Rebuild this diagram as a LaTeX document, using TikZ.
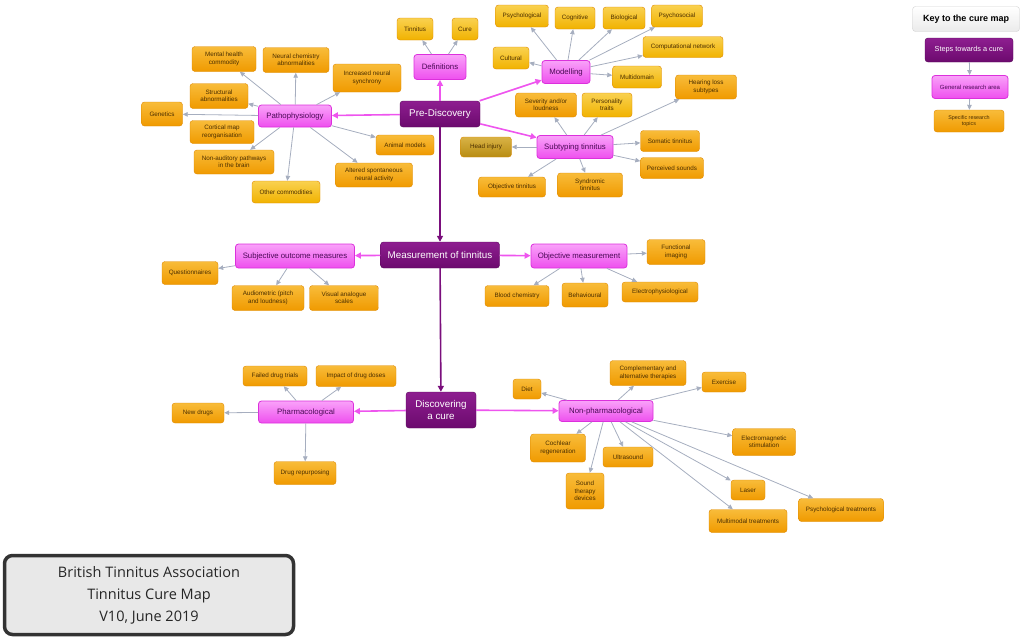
\documentclass[tikz,border=0pt]{standalone}
\usepackage{fontspec}
\setmainfont{Liberation Sans}
\newfontfamily\titlefont{Open Sans}
\usetikzlibrary{arrows.meta}
\definecolor{steptop}{HTML}{8E1E90}
\definecolor{stepbot}{HTML}{6C0A6E}
\definecolor{stepedge}{HTML}{560858}
\definecolor{areatop}{HTML}{F9A2F9}
\definecolor{areabot}{HTML}{EE4FEE}
\definecolor{areaedge}{HTML}{DC30DC}
\definecolor{areatext}{HTML}{4A0A55}
\definecolor{topictop}{HTML}{F8BC3A}
\definecolor{topicbot}{HTML}{F09A00}
\definecolor{topicedge}{HTML}{DE8800}
\definecolor{topictext}{HTML}{4A2E00}
\definecolor{yelltop}{HTML}{F9D150}
\definecolor{yellbot}{HTML}{F1B200}
\definecolor{goldtop}{HTML}{D9B346}
\definecolor{goldbot}{HTML}{B88C12}
\definecolor{linkgray}{HTML}{A6AEBF}
\definecolor{pinkline}{HTML}{EE55EE}
\definecolor{purpleline}{HTML}{7A0E7C}
\begin{document}
\begin{tikzpicture}[x=1pt,y=-1pt,
  box/.style={rounded corners=3pt,align=center,inner sep=1pt},
  stepbox/.style={box,draw=stepedge,top color=steptop,bottom color=stepbot,text=white,font=\fontsize{9.8}{11.5}\selectfont},
  areabox/.style={box,draw=areaedge,line width=.8pt,top color=areatop,bottom color=areabot,text=areatext,font=\fontsize{7.8}{9}\selectfont},
  topicbox/.style={box,draw=topicedge,top color=topictop,bottom color=topicbot,text=topictext,font=\fontsize{6.3}{7.3}\selectfont},
  yellbox/.style={topicbox,top color=yelltop,bottom color=yellbot},
  goldbox/.style={topicbox,top color=goldtop,bottom color=goldbot},
  link/.style={color=linkgray,line width=.8pt,-{Triangle[length=5pt,width=4.5pt]}},
  pinklink/.style={color=pinkline,line width=1.6pt,-{Triangle[length=6pt,width=6pt]}},
  purplelink/.style={color=purpleline,line width=1.6pt,-{Triangle[length=6pt,width=6pt]}}]
\useasboundingbox (0,0) rectangle (1024,643);
\node[stepbox,minimum width=80pt,minimum height=26pt] (pre) at (440,114) {Pre-Discovery};
\node[stepbox,minimum width=119pt,minimum height=26pt] (meas) at (440,255) {Measurement of tinnitus};
\node[stepbox,minimum width=70pt,minimum height=36pt] (disc) at (441,410) {Discovering\\a cure};
\node[areabox,minimum width=73pt,minimum height=22pt] (patho) at (295,116) {Pathophysiology};
\node[areabox,minimum width=52pt,minimum height=25pt] (defs) at (440,67) {Definitions};
\node[areabox,minimum width=48pt,minimum height=23pt] (model) at (566,72) {Modelling};
\node[areabox,minimum width=76pt,minimum height=23pt] (subtyp) at (575,147) {Subtyping tinnitus};
\node[areabox,minimum width=119pt,minimum height=24pt] (subj) at (295,256) {Subjective outcome measures};
\node[areabox,minimum width=96pt,minimum height=24pt] (obj) at (579,256) {Objective measurement};
\node[areabox,minimum width=95pt,minimum height=22pt] (pharm) at (306,412) {Pharmacological};
\node[areabox,minimum width=94pt,minimum height=21pt] (nonph) at (606,411) {Non-pharmacological};
\node[topicbox,minimum width=64pt,minimum height=25pt] (mental) at (224,59) {Mental health\\commodity};
\node[topicbox,minimum width=66pt,minimum height=25pt] (chem) at (296,60) {Neural chemistry\\abnormalities};
\node[topicbox,minimum width=68pt,minimum height=28pt] (sync) at (367,78) {Increased neural\\synchrony};
\node[topicbox,minimum width=58pt,minimum height=25pt] (struct) at (219,96) {Structural\\abnormalities};
\node[topicbox,minimum width=41pt,minimum height=24pt] (genet) at (162,114) {Genetics};
\node[topicbox,minimum width=64pt,minimum height=23pt] (cortex) at (222,132) {Cortical map\\reorganisation};
\node[topicbox,minimum width=80pt,minimum height=24pt] (nonaud) at (234,162) {Non-auditory pathways\\in the brain};
\node[topicbox,minimum width=58pt,minimum height=20pt] (animal) at (405,145) {Animal models};
\node[topicbox,minimum width=77pt,minimum height=24pt] (altered) at (374,175) {Altered spontaneous\\neural activity};
\node[yellbox,minimum width=68pt,minimum height=22pt] (other) at (286,192) {Other commodities};
\node[yellbox,minimum width=36pt,minimum height=22pt] (tinn) at (415,29) {Tinnitus};
\node[yellbox,minimum width=26pt,minimum height=22pt] (cure) at (465,29) {Cure};
\node[yellbox,minimum width=53pt,minimum height=22pt] (psych) at (522,16) {Psychological};
\node[yellbox,minimum width=40pt,minimum height=22pt] (cogn) at (575,18) {Cognitive};
\node[yellbox,minimum width=42pt,minimum height=22pt] (bio) at (624,18) {Biological};
\node[yellbox,minimum width=51pt,minimum height=22pt] (social) at (677,16) {Psychosocial};
\node[yellbox,minimum width=80pt,minimum height=21pt] (comput) at (683,47) {Computational network};
\node[yellbox,minimum width=36pt,minimum height=22pt] (cult) at (511,58) {Cultural};
\node[yellbox,minimum width=49pt,minimum height=22pt] (multi) at (637,77) {Multidomain};
\node[topicbox,minimum width=61pt,minimum height=24pt] (hearing) at (706,87) {Hearing loss\\subtypes};
\node[topicbox,minimum width=61pt,minimum height=24pt] (sever) at (546,105) {Severity and/or\\loudness};
\node[yellbox,minimum width=50pt,minimum height=24pt] (person) at (607,105) {Personality\\traits};
\node[goldbox,minimum width=51pt,minimum height=20pt] (head) at (486,147) {Head injury};
\node[topicbox,minimum width=59pt,minimum height=21pt] (somatic) at (670,141) {Somatic tinnitus};
\node[topicbox,minimum width=63pt,minimum height=21pt] (perceiv) at (672,168) {Perceived sounds};
\node[topicbox,minimum width=67pt,minimum height=20pt] (objtin) at (512,187) {Objective tinnitus};
\node[topicbox,minimum width=65pt,minimum height=24pt] (syndr) at (590,185) {Syndromic\\tinnitus};
\node[topicbox,minimum width=56pt,minimum height=23pt] (quest) at (190,273) {Questionnaires};
\node[topicbox,minimum width=72pt,minimum height=25pt] (audio) at (268,298) {Audiometric (pitch\\and loudness)};
\node[topicbox,minimum width=69pt,minimum height=25pt] (visual) at (344,298) {Visual analogue\\scales};
\node[topicbox,minimum width=58pt,minimum height=25pt] (func) at (676,252) {Functional\\imaging};
\node[topicbox,minimum width=64pt,minimum height=21pt] (blood) at (517,296) {Blood chemistry};
\node[topicbox,minimum width=46pt,minimum height=24pt] (behav) at (585,295) {Behavioural};
\node[topicbox,minimum width=76pt,minimum height=20pt] (electro) at (660,292) {Electrophysiological};
\node[topicbox,minimum width=64pt,minimum height=20pt] (failed) at (275,376) {Failed drug trials};
\node[topicbox,minimum width=80pt,minimum height=21pt] (impact) at (356,376) {Impact of drug doses};
\node[topicbox,minimum width=52pt,minimum height=20pt] (newdrug) at (198,413) {New drugs};
\node[topicbox,minimum width=62pt,minimum height=23pt] (repurp) at (305,473) {Drug repurposing};
\node[topicbox,minimum width=28pt,minimum height=20pt] (diet) at (527,389) {Diet};
\node[topicbox,minimum width=76pt,minimum height=25pt] (compl) at (648,373) {Complementary and\\alternative therapies};
\node[topicbox,minimum width=44pt,minimum height=20pt] (exerc) at (724,382) {Exercise};
\node[topicbox,minimum width=63pt,minimum height=27pt] (emag) at (764,442) {Electromagnetic\\stimulation};
\node[topicbox,minimum width=55pt,minimum height=28pt] (cochl) at (558,448) {Cochlear\\regeneration};
\node[topicbox,minimum width=50pt,minimum height=20pt] (ultra) at (628,457) {Ultrasound};
\node[topicbox,minimum width=38pt,minimum height=36pt] (sound) at (585,491) {Sound\\therapy\\devices};
\node[topicbox,minimum width=34pt,minimum height=20pt] (laser) at (748,490) {Laser};
\node[topicbox,minimum width=78pt,minimum height=23pt] (mmodal) at (748,521) {Multimodal treatments};
\node[topicbox,minimum width=85pt,minimum height=23pt] (psytreat) at (841,510) {Psychological treatments};
\node[box,draw=black!18,top color=white,bottom color=black!8,minimum width=107pt,minimum height=25pt,font=\bfseries\fontsize{9}{10}\selectfont] (keyhead) at (966,19) {Key to the cure map};
\node[stepbox,minimum width=88pt,minimum height=24pt,font=\fontsize{7.3}{8}\selectfont] (keystep) at (969,50) {Steps towards a cure};
\node[areabox,minimum width=76pt,minimum height=23pt,font=\fontsize{6}{7}\selectfont] (keyarea) at (970,87) {General research area};
\node[topicbox,minimum width=70pt,minimum height=22pt,font=\fontsize{5.4}{6.4}\selectfont] (keytopic) at (969,121) {Specific research\\topics};
\node[box,draw=black!80,line width=3.5pt,rounded corners=8pt,fill=black!9,minimum width=289pt,minimum height=79pt,font=\titlefont\fontsize{14.5}{22}\selectfont,text=black!85] (title) at (149,595) {British Tinnitus Association\\Tinnitus Cure Map\\V10, June 2019};
\draw[purplelink] (pre) -- (meas);
\draw[purplelink] (meas) -- (disc);
\draw[pinklink] (pre) edge (patho) edge (defs) edge (model) edge (subtyp);
\draw[pinklink] (meas) edge (subj) edge (obj);
\draw[pinklink] (disc) edge (pharm) edge (nonph);
\draw[link] (patho) edge (mental) edge (chem) edge (sync) edge (struct) edge (genet) edge (nonaud) edge (animal) edge (altered) edge (other);
\draw[link] (defs) edge (tinn) edge (cure);
\draw[link] (model) edge (psych) edge (cogn) edge (bio) edge (social) edge (comput) edge (cult) edge (multi);
\draw[link] (subtyp) edge (hearing) edge (sever) edge (person) edge (head) edge (somatic) edge (perceiv) edge (objtin) edge (syndr);
\draw[link] (subj) edge (quest) edge (audio) edge (visual);
\draw[link] (obj) edge (func) edge (blood) edge (behav) edge (electro);
\draw[link] (pharm) edge (failed) edge (impact) edge (newdrug) edge (repurp);
\draw[link] (nonph) edge (diet) edge (compl) edge (exerc) edge (emag) edge (cochl) edge (ultra) edge (sound) edge (laser) edge (mmodal) edge (psytreat);
\draw[link] (keystep) -- (keyarea);
\draw[link] (keyarea) -- (keytopic);
\end{tikzpicture}
\end{document}
